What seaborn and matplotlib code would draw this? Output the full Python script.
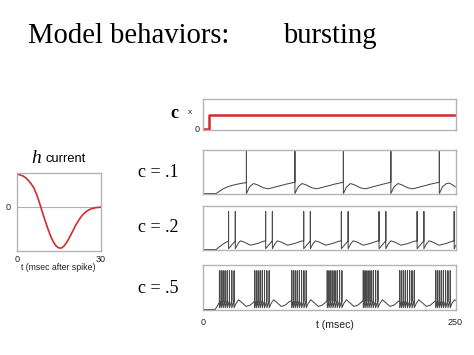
import matplotlib
matplotlib.use("Agg")
import matplotlib.pyplot as plt
import seaborn as sns
import numpy as np

# ---------------- data ----------------
# h current kernel (t in msec after spike, arbitrary units)
h_t = [0, 1, 2, 3, 4, 5, 6, 7, 8, 9, 10, 11, 12, 13, 14, 15, 16, 17, 18,
       19, 20, 21, 22, 23, 24, 25, 26, 27, 28, 29, 30]
h_v = [0.95, 0.94, 0.91, 0.86, 0.78, 0.68, 0.56, 0.37, 0.13, -0.13, -0.39,
       -0.63, -0.85, -1.03, -1.15, -1.21, -1.21, -1.14, -1.02, -0.87, -0.71,
       -0.55, -0.41, -0.29, -0.20, -0.13, -0.08, -0.05, -0.03, -0.02, -0.01]

# injected current c (step)
c_t = [0, 6, 6, 250]
c_v = [0.02, 0.02, 0.48, 0.48]

# c = .1 : single spikes
c1_spikes = [43, 91, 139, 186, 234]
c1_onset_t = [0, 13, 16, 20, 25, 31, 37, 42.5]
c1_onset_v = [0, 0, 0.05, 0.11, 0.16, 0.2, 0.23, 0.25]
c1_wave_dt = [3, 7, 11, 17, 22, 30, 40]
c1_wave_v = [0.15, 0.23, 0.2, 0.13, 0.11, 0.16, 0.22]
c1_tail_t = [237, 241, 244, 247, 250]
c1_tail_v = [0.15, 0.23, 0.24, 0.2, 0.15]

# c = .2 : doublets
c2_spikes = [25.3, 32, 62, 68.7, 99.7, 106.3, 137, 143.7, 174.3, 181,
             212, 218.7, 248.7]
c2_onset_t = [0, 13, 16, 19, 22, 25]
c2_onset_v = [0, 0, 0.06, 0.11, 0.16, 0.19]
c2_wave_dt = [2.5, 5, 9, 15, 22, 28]
c2_wave_v = [0.13, 0.2, 0.17, 0.1, 0.14, 0.19]
c2_tail_t = [249.2, 250]
c2_tail_v = [0.04, 0.1]

# c = .5 : bursts
c5_burst_starts = [16.3, 51, 87.7, 123, 158.7, 194.7, 230.3]
c5_burst_offsets = [0, 1.7, 3.6, 5.6, 7.7, 9.9, 12.2, 14.5]
c5_onset_t = [0, 12, 16.0]
c5_onset_v = [0, 0, 0.15]
c5_wave_dt = [2, 4.5, 8, 12, 16, 19.5]
c5_wave_v = [0.14, 0.22, 0.15, 0.07, 0.1, 0.17]
c5_tail_t = [246.5, 249, 250]
c5_tail_v = [0.14, 0.22, 0.2]


def build(spikes, onset_t, onset_v, pre, peak, trough, wave_dt, wave_v,
          burst_gap, tail_t, tail_v):
    t = list(onset_t)
    v = list(onset_v)
    for i, s in enumerate(spikes):
        t += [s, s, s]
        v += [pre, peak, trough]
        if i + 1 < len(spikes):
            nxt = spikes[i + 1]
            if nxt - s > burst_gap:
                for dt, val in zip(wave_dt, wave_v):
                    if s + dt < nxt - 0.5:
                        t.append(s + dt)
                        v.append(val)
    t += list(tail_t)
    v += list(tail_v)
    return np.array(t), np.array(v)


c5_spikes = [b + o for b in c5_burst_starts for o in c5_burst_offsets]

tr1 = build(c1_spikes, c1_onset_t, c1_onset_v, 0.26, 0.98, 0.0,
            c1_wave_dt, c1_wave_v, 10, c1_tail_t, c1_tail_v)
tr2 = build(c2_spikes, c2_onset_t, c2_onset_v, 0.2, 0.87, 0.02,
            c2_wave_dt, c2_wave_v, 10, c2_tail_t, c2_tail_v)
tr5 = build(c5_spikes, c5_onset_t, c5_onset_v, 0.2, 0.87, 0.04,
            c5_wave_dt, c5_wave_v, 5, c5_tail_t, c5_tail_v)

# ---------------- figure ----------------
sns.set_theme(style="white")
plt.rcParams["font.family"] = ["Liberation Sans", "DejaVu Sans"]
plt.rcParams["text.color"] = "black"
plt.rcParams["xtick.color"] = "#222222"
plt.rcParams["ytick.color"] = "#222222"

W, H = 474, 355
fig = plt.figure(figsize=(W / 100, H / 100), dpi=100)


def ax_at(x0, y0, x1, y1):
    return fig.add_axes([x0 / W, 1 - y1 / H, (x1 - x0) / W, (y1 - y0) / H])


def ftext(x, y, s, **kw):
    fig.text(x / W, 1 - y / H, s, **kw)


SPINE = "#b4b4b4"
TRACE = "#4a4a4a"
RED = "#d42a2e"


def style_box(ax):
    for sp in ax.spines.values():
        sp.set_visible(True)
        sp.set_color(SPINE)
        sp.set_linewidth(1.0)
    ax.set_xticks([])
    ax.set_yticks([])
    ax.set_xlabel("")
    ax.set_ylabel("")


serif = "Liberation Serif"

# title
ftext(28, 43, "Model behaviors:", fontsize=20.6, family=serif, va="baseline",
      color="black")
ftext(282.7, 43, "bursting", fontsize=20.6, family=serif, va="baseline",
      color="black")

# c panel
ax_c = ax_at(203, 99, 455.5, 130)
sns.lineplot(x=c_t, y=c_v, ax=ax_c, color=RED, lw=1.8, sort=False,
             estimator=None)
ax_c.set_xlim(0, 250)
ax_c.set_ylim(0, 1)
style_box(ax_c)
ftext(170.5, 118, "c", fontsize=13, family=serif, fontweight="bold",
      va="baseline")
ftext(190, 112, "x", fontsize=6, va="center", ha="center", color="#222222")
ftext(197, 129.5, "0", fontsize=6.5, va="center", ha="center",
      color="#222222")

# voltage panels
panels = [
    (tr1, 150, 194, "c = .1", 177),
    (tr2, 206, 250, "c = .2", 232),
    (tr5, 265, 310, "c = .5", 293),
]
axes_v = []
for (tt, vv), y0, y1, lab, yb in panels:
    ax = ax_at(203, y0, 455.5, y1)
    sns.lineplot(x=tt, y=vv, ax=ax, color=TRACE, lw=0.75, sort=False,
                 estimator=None)
    ax.set_xlim(0, 250)
    ax.set_ylim(-0.01, 1.0)
    style_box(ax)
    ftext(138, yb, lab, fontsize=13, family=serif, va="baseline")
    axes_v.append(ax)

ax5 = axes_v[-1]
ax5.set_xticks([0, 250])
ax5.set_xticklabels(["0", "250"], fontsize=6.5)
ax5.tick_params(axis="x", length=0, pad=6)
ftext(335, 325.5, "t (msec)", fontsize=7.6, ha="center", va="center",
      color="#222222")

# h current panel
axh = ax_at(17, 172.7, 100.7, 250.7)
axh.axhline(0, color="#b0b0b0", lw=0.8)
sns.lineplot(x=h_t, y=h_v, ax=axh, color=RED, lw=1.2, sort=False,
             estimator=None)
axh.set_xlim(0, 30)
axh.set_ylim(-1.29, 1.0)
style_box(axh)
axh.set_xticks([0, 30])
axh.set_xticklabels(["0", "30"], fontsize=6.5)
axh.set_yticks([0])
axh.set_yticklabels(["0"], fontsize=6.5)
axh.tick_params(axis="both", length=0)
axh.tick_params(axis="x", pad=3)
axh.tick_params(axis="y", pad=4.5)
ftext(31.5, 162.5, "h", fontsize=14, family=serif, style="italic",
      va="baseline")
ftext(45, 162, "current", fontsize=9.3, va="baseline")
ftext(58, 268, "t (msec after spike)", fontsize=6.3, ha="center",
      va="center", color="#222222")

fig.savefig("out.png", dpi=100)
